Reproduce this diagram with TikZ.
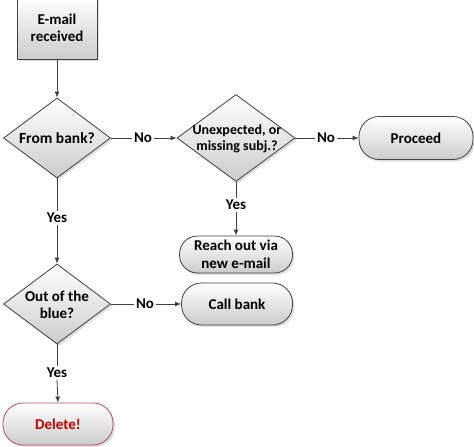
\documentclass[tikz,border=0pt]{standalone}
\usepackage{fontspec}
\setmainfont{Carlito}
\usetikzlibrary{shapes.geometric,arrows.meta,shadows}
\definecolor{edge}{HTML}{404040}
\definecolor{delred}{HTML}{C00000}
\definecolor{delborder}{HTML}{B0505A}
\tikzset{
  base/.style={draw=edge, line width=0.8pt, top color=white, bottom color=black!20,
    drop shadow={shadow xshift=2pt, shadow yshift=-2pt, opacity=0.25}},
  procbox/.style={base, rectangle, inner sep=0pt, align=center, font=\fontsize{15}{17.5}\selectfont\bfseries},
  termbox/.style={base, rectangle, rounded corners=20pt, inner sep=0pt, align=center, font=\fontsize{15}{17.5}\selectfont\bfseries},
  decbox/.style={base, diamond, inner sep=0pt, shape aspect=1},
  dtext/.style={align=center, inner sep=0pt, font=\fontsize{15.5}{17}\selectfont\bfseries},
  lbl/.style={inner sep=1.5pt, font=\fontsize{15}{17}\selectfont\bfseries},
  arr/.style={draw=edge, line width=0.8pt, -{Latex[length=6pt,width=5pt]}},
  ln/.style={draw=edge, line width=0.8pt},
}
\begin{document}
\begin{tikzpicture}[x=1pt,y=-1pt]
\useasboundingbox (0,0) rectangle (474,447);
\node[procbox, minimum width=80pt, minimum height=62pt] (email) at (57,28) {E-mail\\received};
\node[decbox, minimum width=107pt, minimum height=80pt] (d1) at (57,138) {};
\node[dtext] (t1) at (57,138) {From bank?};
\node[decbox, minimum width=118pt, minimum height=87pt] (d2) at (236,138) {};
\node[dtext, font=\fontsize{14}{16}\selectfont\bfseries] (t2) at (237,139) {Unexpected, or\\missing subj.?};
\node[termbox, minimum width=114pt, minimum height=43pt] (proceed) at (416,138) {Proceed};
\node[termbox, minimum width=113pt, minimum height=37pt, rounded corners=18pt] (reach) at (236,254.5) {Reach out via\\new e-mail};
\node[decbox, minimum width=107pt, minimum height=80pt] (d3) at (57,304) {};
\node[dtext, font=\fontsize{15}{17.5}\selectfont\bfseries] (t3) at (57,305) {Out of the\\blue?};
\node[termbox, minimum width=111pt, minimum height=42pt] (call) at (237,304) {Call bank};
\node[termbox, draw=delborder, text=delred, minimum width=110pt, minimum height=42pt] (delete) at (58,424) {Delete!};
\node[lbl] (no1) at (143,138) {No};
\node[lbl] (no2) at (326,138) {No};
\node[lbl] (no3) at (145,304) {No};
\node[lbl] (yes1) at (57,218) {Yes};
\node[lbl] (yes2) at (236,205) {Yes};
\node[lbl] (yes3) at (57,373) {Yes};
\draw[arr] (email) -- (d1.north);
\draw[ln] (d1.east) -- (no1.west);
\draw[arr] (no1.east) -- (d2.west);
\draw[ln] (d2.east) -- (no2.west);
\draw[arr] (no2.east) -- (proceed.west);
\draw[ln] (d2.south) -- (yes2.north);
\draw[arr] (yes2.south) -- (reach.north);
\draw[ln] (d1.south) -- (yes1.north);
\draw[arr] (yes1.south) -- (d3.north);
\draw[ln] (d3.east) -- (no3.west);
\draw[arr] (no3.east) -- (call.west);
\draw[ln] (d3.south) -- (yes3.north);
\draw[arr] (yes3.south) -- (delete.north);
\end{tikzpicture}
\end{document}
